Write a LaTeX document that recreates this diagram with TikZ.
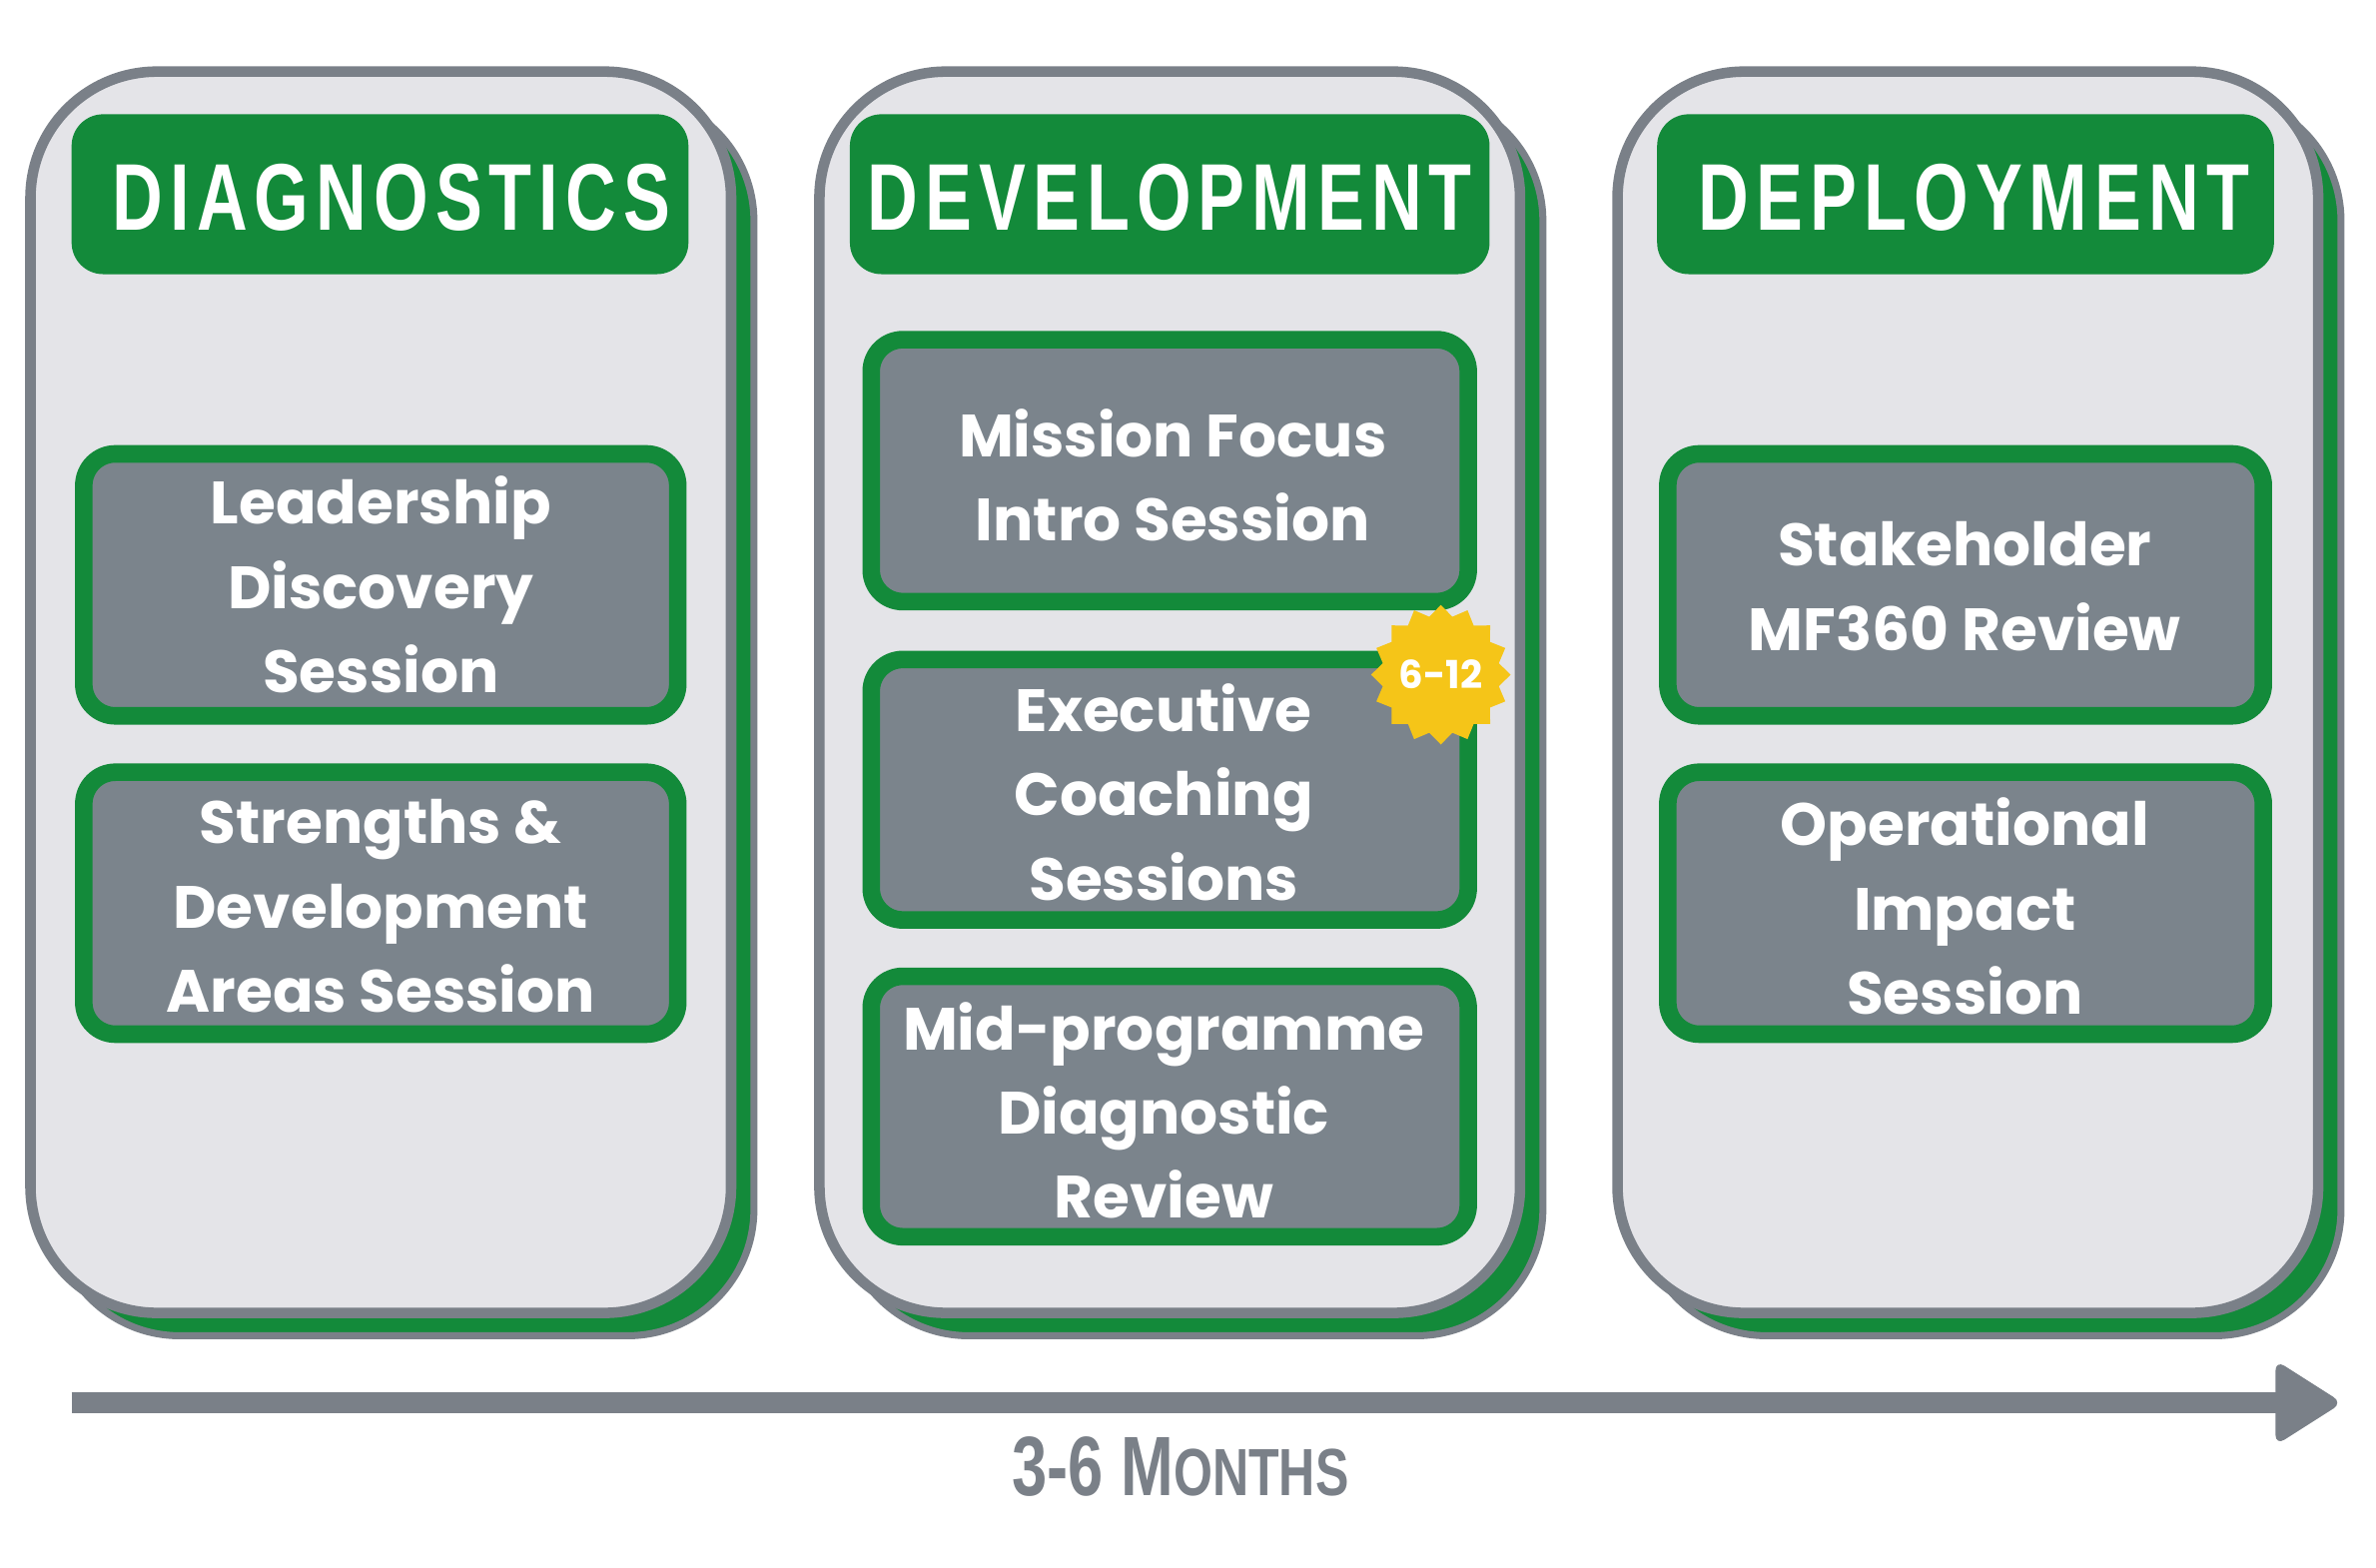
\documentclass[tikz,border=0pt]{standalone}
\usepackage{fontspec}
\setmainfont{Poppins}
\newfontfamily\hdfont[LetterSpace=10]{Liberation Sans}
\newfontfamily\mofont{Liberation Sans}
\usetikzlibrary{shapes.geometric}
\definecolor{pg}{HTML}{E4E4E8}
\definecolor{gb}{HTML}{7A8088}
\definecolor{gr}{HTML}{138A3A}
\definecolor{ib}{HTML}{7B848C}
\definecolor{yl}{HTML}{F5C518}
\begin{document}
\begin{tikzpicture}[x=0.01525cm,y=-0.01525cm,
 panel/.style={fill=pg,draw=gb,line width=3pt,rounded corners=36pt},
 shadow/.style={fill=gr,draw=gb,line width=2pt,rounded corners=36pt},
 head/.style={fill=gr,rounded corners=9pt},
 box/.style={fill=ib,draw=gr,line width=5pt,rounded corners=9pt},
 htxt/.style={text=white,font=\hdfont\bfseries\fontsize{27}{30}\selectfont,xscale=0.74},
 btxt/.style={text=white,font=\bfseries\fontsize{17}{24}\selectfont,align=center}]
\useasboundingbox (0,0) rectangle (1560,1029);
\foreach \x/\n in {20/a,538/b,1062/c}{
 \draw[shadow] (\x+15,62) rectangle (\x+475,877);
 \draw[panel] (\x,47) rectangle (\x+460,862);
}
\fill[head] (47,75) rectangle (452,180);
\fill[head] (558,75) rectangle (978,180);
\fill[head] (1088,75) rectangle (1493,180);
\node[htxt] (h1) at (257,130) {DIAGNOSTICS};
\node[htxt] (h2) at (768,130) {DEVELOPMENT};
\node[htxt] (h3) at (1296,130) {DEPLOYMENT};
\draw[box] (55,298) rectangle (445,470);
\node[btxt] (b1) at (250,384) {Leadership\\Discovery\\Session};
\draw[box] (55,507) rectangle (445,679);
\node[btxt] (b2) at (250,595) {Strengths \&\\Development\\Areas Session};
\draw[box] (572,223) rectangle (964,395);
\node[btxt] (b3) at (770,312) {Mission Focus\\Intro Session};
\draw[box] (572,433) rectangle (964,604);
\node[btxt] (b4) at (764,520) {Executive\\Coaching\\Sessions};
\draw[box] (572,641) rectangle (964,812);
\node[btxt] (b5) at (764,729) {Mid-programme\\Diagnostic\\Review};
\draw[box] (1095,298) rectangle (1486,470);
\node[btxt] (b6) at (1290,385) {Stakeholder\\MF360 Review};
\draw[box] (1095,507) rectangle (1486,679);
\node[btxt] (b7) at (1290,595) {Operational\\Impact\\Session};
\node[star,star points=16,star point ratio=1.18,fill=yl,minimum size=80*0.01525cm,inner sep=0pt,text=white,font=\bfseries\fontsize{11}{12}\selectfont] (badge) at (946,443) {6-12};
\coordinate (as) at (47,921);
\coordinate (ae) at (1500,921);
\draw[gb,line width=6pt] (as) -- (ae);
\fill[gb,rounded corners=3pt] (1494,893) -- (1538,921) -- (1494,949) -- cycle;
\node[text=gb,font=\mofont\bfseries\fontsize{24}{28}\selectfont,xscale=0.75] (t) at (775,963) {3-6 M\fontsize{19}{22}\selectfont ONTHS};
\end{tikzpicture}
\end{document}
